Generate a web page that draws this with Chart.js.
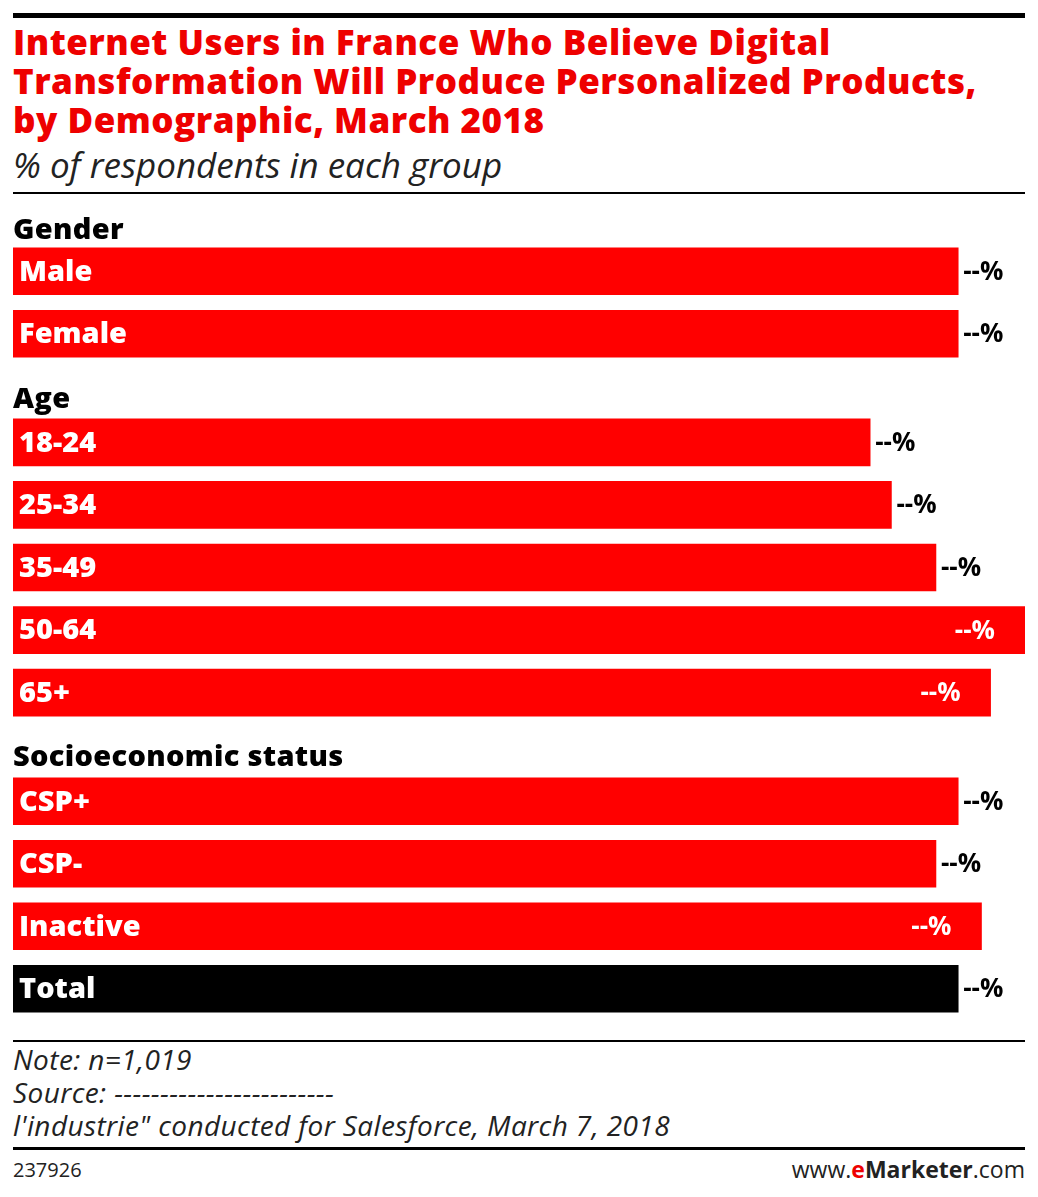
<!DOCTYPE html>
<html><head><meta charset="utf-8">
<script src="https://cdn.jsdelivr.net/npm/chart.js@4/dist/chart.umd.min.js"></script>
<style>
body{margin:0;width:1038px;height:1197px;background:#fff;position:relative;font-family:"Open Sans",sans-serif;overflow:hidden}
canvas{position:absolute;left:0}
.t{position:absolute;left:13px;top:22px;font-weight:800;font-size:35px;line-height:39px;color:#e00;letter-spacing:0.5px;white-space:nowrap}
.s{position:absolute;left:13px;top:141px;font-style:italic;font-size:35px;color:#222;white-space:nowrap}
.ln{position:absolute;left:13px;width:1012px;background:#000}
.h{position:absolute;left:13px;font-weight:800;font-size:29px;line-height:34px;color:#000;letter-spacing:0.3px}
.f{position:absolute;left:13px;top:1043px;font-style:italic;font-size:28px;line-height:33px;color:#222;letter-spacing:0.4px;white-space:nowrap}
.id{position:absolute;left:13px;top:1156px;font-size:20px;color:#222}
.em{position:absolute;right:13px;top:1153px;font-size:23px;color:#222}
</style></head><body>
<canvas id="c1" width="1038" height="125" style="top:239.75px"></canvas>
<canvas id="c2" width="1038" height="313" style="top:410.75px"></canvas>
<canvas id="c3" width="1038" height="250" style="top:769.75px"></canvas>
<div class="ln" style="top:13px;height:5px"></div>
<div class="t">Internet Users in France Who Believe Digital<br>Transformation Will Produce Personalized Products,<br>by Demographic, March 2018</div>
<div class="s">% of respondents in each group</div>
<div class="ln" style="top:192px;height:2px"></div>
<div class="h" style="top:211px">Gender</div>
<div class="h" style="top:380px">Age</div>
<div class="h" style="top:738px">Socioeconomic status</div>
<div class="ln" style="top:1040px;height:2px"></div>
<div class="f">Note: n=1,019<br>Source: ------------------------<br>l'industrie" conducted for Salesforce, March 7, 2018</div>
<div class="ln" style="top:1147px;height:3px"></div>
<div class="id">237926</div>
<div class="em">www.<b style="color:#e00">e</b><b>Marketer</b>.com</div>
<script>
const genderCategories=["Male","Female"];
const genderValues=[93.4,93.4];
const ageCategories=["18-24","25-34","35-49","50-64","65+"];
const ageValues=[84.7,86.8,91.2,100,96.6];
const socioCategories=["CSP+","CSP-","Inactive","Total"];
const socioValues=[93.4,91.2,95.7,93.4];
const valueLabel="--%";
function draw(id,cats,vals){
 const textPlugin={id:"txt",afterDatasetsDraw(ch){
  const ctx=ch.ctx,meta=ch.getDatasetMeta(0);
  ctx.save();ctx.textBaseline="middle";
  cats.forEach((c,i)=>{
    const b=meta.data[i];
    ctx.fillStyle="#fff";ctx.font="800 29px 'Open Sans'";ctx.textAlign="left";
    ctx.fillText(c,19,b.y+1);
    ctx.font="bold 26px 'Open Sans'";
    if(b.x>970){ctx.textAlign="right";ctx.fillStyle="#fff";ctx.fillText(valueLabel,b.x-30,b.y+1);}
    else{ctx.textAlign="left";ctx.fillStyle="#000";ctx.fillText(valueLabel,b.x+5,b.y+1);}
  });
  ctx.restore();}};
 new Chart(document.getElementById(id),{type:"bar",
  data:{labels:cats,datasets:[{data:vals,backgroundColor:cats.map(c=>c==="Total"?"#000":"#f00"),barThickness:47}]},
  options:{indexAxis:"y",responsive:false,animation:false,
   layout:{padding:{left:13,right:13,top:0,bottom:0}},
   plugins:{legend:{display:false},tooltip:{enabled:false}},
   scales:{x:{display:false,min:0,max:100},y:{display:false}}},
  plugins:[textPlugin]});
}
draw("c1",genderCategories,genderValues);
draw("c2",ageCategories,ageValues);
draw("c3",socioCategories,socioValues);
</script></body></html>
